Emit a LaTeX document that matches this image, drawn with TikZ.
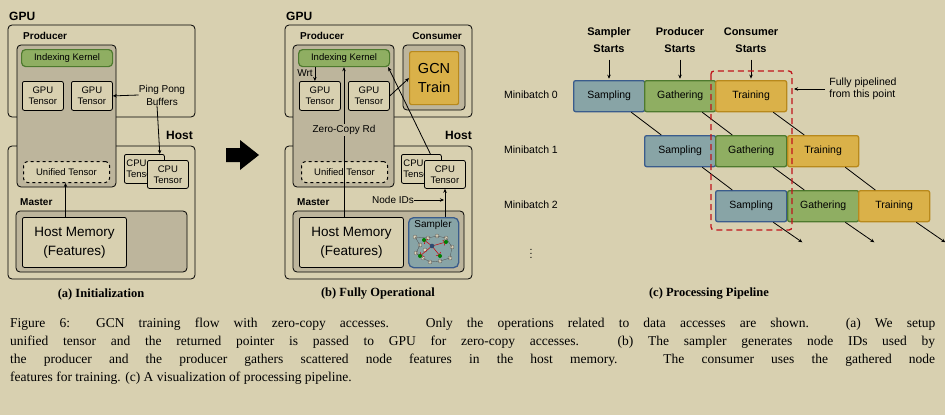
\documentclass[tikz,border=0pt]{standalone}
\usepackage{fontspec}
\setmainfont{Liberation Serif}
\newfontfamily\mysf{Liberation Sans}
\usetikzlibrary{arrows.meta}
\definecolor{bg}{HTML}{D8D0B0}
\definecolor{gry}{HTML}{BDB59C}
\definecolor{samp}{HTML}{88A4A6}
\definecolor{sampb}{HTML}{3A5C8C}
\definecolor{gath}{HTML}{8FAE62}
\definecolor{gathb}{HTML}{4E7A2E}
\definecolor{trn}{HTML}{DAB149}
\definecolor{trnb}{HTML}{B8891C}
\definecolor{rd}{HTML}{C0141C}
\begin{document}
\begin{tikzpicture}[x=1pt,y=-1pt,
 lbl/.style={font=\mysf\bfseries\fontsize{10}{11}\selectfont,inner sep=0},
 big/.style={font=\mysf\bfseries\fontsize{12}{13}\selectfont,inner sep=0},
 outer/.style={draw,rounded corners=4pt,line width=0.8pt},
 grybox/.style={draw,fill=gry,rounded corners=4pt,line width=0.8pt},
 wbox/.style={draw,fill=bg,rounded corners=2pt,line width=0.8pt,font=\mysf\fontsize{9.5}{11}\selectfont,align=center,inner sep=0},
 kern/.style={draw=gathb,fill=gath,rounded corners=4pt,line width=1.2pt,font=\mysf\fontsize{9.5}{11}\selectfont,inner sep=0},
 dsh/.style={draw,dashed,fill=bg,rounded corners=4pt,line width=1pt,font=\mysf\fontsize{9.5}{11}\selectfont,inner sep=0},
 arr/.style={-{Stealth[length=4pt,width=3.5pt]},line width=0.8pt},
 stage/.style={rounded corners=2pt,line width=1.3pt,font=\mysf\fontsize{10.5}{12}\selectfont,inner sep=0,minimum height=31pt,minimum width=71pt,anchor=north west},
 smp/.style={stage,draw=sampb,fill=samp},
 gth/.style={stage,draw=gathb,fill=gath},
 trg/.style={stage,draw=trnb,fill=trn},
 txt/.style={font=\mysf\fontsize{10.5}{12}\selectfont,inner sep=0,align=left},
 subcap/.style={font=\bfseries\fontsize{12.5}{14}\selectfont,inner sep=0}
]
\fill[bg] (0,0) rectangle (945,415);
\useasboundingbox (0,0) rectangle (945,415);

% ===== Panel (a)
\node[big,anchor=west] (aGPU) at (9,16) {GPU};
\draw[outer] (8,25) rectangle (195,117);
\node[lbl,anchor=west] (aProd) at (23,36) {Producer};
\draw[outer] (8,146) rectangle (195,279);
\node[big,anchor=east] (aHost) at (193,135) {Host};
\draw[grybox] (17,45) rectangle (116,187);
\node[kern,minimum width=91pt,minimum height=17pt,anchor=north west] (aK) at (21,49) {Indexing Kernel};
\node[wbox,minimum width=41pt,minimum height=29pt,anchor=north west] (aT1) at (22,81) {GPU\\Tensor};
\node[wbox,minimum width=41pt,minimum height=29pt,anchor=north west] (aT2) at (71,81) {GPU\\Tensor};
\node[txt,align=center,font=\mysf\fontsize{10}{13}\selectfont] (aPP) at (162,95) {Ping Pong\\Buffers};
\node[dsh,minimum width=86pt,minimum height=21pt,anchor=north west] (aU) at (23,161) {Unified Tensor};
\node[wbox,minimum width=40pt,minimum height=29pt,anchor=north west,align=left,text width=36pt] (aC1) at (124,154) {CPU\\Tensor};
\node[wbox,minimum width=41pt,minimum height=28pt,anchor=north west] (aC2) at (147,160) {CPU\\Tensor};
\node[lbl,anchor=west] (aM) at (20,202) {Master};
\draw[grybox] (16,211) rectangle (187,272);
\node[wbox,minimum width=104pt,minimum height=50pt,anchor=north west,font=\mysf\fontsize{13.5}{19}\selectfont] (aHM) at (22,217) {Host Memory\\(Features)};
\draw[arr] (aPP.west) -- (aT2.east);
\draw[arr] ([xshift=-5pt]aPP.south) -- ([xshift=-5pt]aC1.north east);
\draw[arr] (aHM.north -| aU.south) ++(-1,0) coordinate (aa) -- (aa |- aU.south);
\node[subcap] (capa) at (101,294) {(a) Initialization};

% big arrow
\fill (226,148) -- (240,148) -- (240,140) -- (259,155) -- (240,170) -- (240,162) -- (226,162) -- cycle;

% ===== Panel (b)
\node[big,anchor=west] (bGPU) at (286,16) {GPU};
\draw[outer] (285,25) rectangle (472,117);
\node[lbl,anchor=west] (bProd) at (300,36) {Producer};
\node[lbl,anchor=east] (bCons) at (462,36) {Consumer};
\draw[outer] (285,146) rectangle (472,279);
\node[big,anchor=east] (bHost) at (472,135) {Host};
\draw[grybox] (293,45) rectangle (394,187);
\draw[grybox] (403,45) rectangle (465,110);
\node[draw=trnb,fill=trn,line width=1.2pt,rounded corners=2pt,minimum width=49pt,minimum height=53pt,anchor=north west,font=\mysf\fontsize{14.5}{19}\selectfont,align=center,inner sep=0] (bG) at (409,51) {GCN\\Train};
\node[kern,minimum width=91pt,minimum height=17pt,anchor=north west] (bK) at (298,49) {Indexing Kernel};
\node[wbox,minimum width=41pt,minimum height=29pt,anchor=north west] (bT1) at (299,81) {GPU\\Tensor};
\node[wbox,minimum width=41pt,minimum height=29pt,anchor=north west] (bT2) at (348,81) {GPU\\Tensor};
\node[dsh,minimum width=86pt,minimum height=21pt,anchor=north west] (bU) at (301,161) {Unified Tensor};
\node[wbox,minimum width=40pt,minimum height=29pt,anchor=north west,align=left,text width=36pt] (bC1) at (401,154) {CPU\\Tensor};
\node[wbox,minimum width=41pt,minimum height=28pt,anchor=north west] (bC2) at (424,160) {CPU\\Tensor};
\node[lbl,anchor=west] (bM) at (297,202) {Master};
\draw[grybox] (293,211) rectangle (464,272);
\node[wbox,minimum width=104pt,minimum height=50pt,anchor=north west,font=\mysf\fontsize{13.5}{19}\selectfont] (bHM) at (299,217) {Host Memory\\(Features)};
\node[draw=sampb,fill=samp,line width=1.3pt,rounded corners=5pt,minimum width=50pt,minimum height=50pt,anchor=north west,inner sep=0] (bS) at (408,217) {};
\node[font=\mysf\fontsize{10}{11}\selectfont,inner sep=0] (bSl) at (433,225) {Sampler};
\foreach \p/\q in {415/237,420/245,416/253,423/258,430/262,440/261,450/258,452/247,446/238,437/236,428/238,425/250}
  \draw[gray!60!black,line width=0.3pt,fill=bg!80!white] (\p,\q) circle (2pt);
\draw[gray!60!black,line width=0.3pt] (415,237)--(420,245)--(416,253)--(423,258)--(430,262)--(440,261)--(450,258)--(452,247)--(446,238)--(437,236)--(428,238)--(415,237);
\draw[rd,line width=0.6pt,->] (432,246) -- (424,240);
\draw[rd,line width=0.6pt,->] (432,246) -- (420,256);
\draw[rd,line width=0.6pt,->] (432,246) -- (446,242);
\draw[rd,line width=0.6pt,->] (432,246) -- (440,256);
\fill[green!50!black] (420,256) circle (2pt) (446,242) circle (2pt) (440,256) circle (2pt) (424,240) circle (2pt);
\fill[sampb!80!black] (432,246) circle (2.3pt);
\node[font=\mysf\fontsize{10}{11}\selectfont,inner sep=0] (bNI) at (393,200) {Node IDs};
\coordinate (bNIe) at (444,200);
\node[font=\mysf\fontsize{10}{11}\selectfont,inner sep=0] (bW) at (305,73) {Wrt};
\node[font=\mysf\fontsize{10}{11}\selectfont,inner sep=1pt] (bZ) at (344,130) {Zero-Copy Rd};
\draw[arr] ([xshift=-5pt]bT1.north |- bK.south) -- ([xshift=-5pt]bT1.north);
\draw[line width=0.8pt] (bHM.north -| bZ.south) -- (bZ.south);
\draw[arr] (bZ.north) -- (bZ.north |- bK.south);
\draw[arr] (bT2.east) -- (bG.west);
\draw[arr] ([xshift=9pt]bC1.north) -- ([xshift=-2pt]bK.south east);
\draw[arr] (bNI.east) -- (bNIe);
\draw[arr] (bS.north -| bNIe) ++(1,0) coordinate (bb) -- (bb |- bC2.south);
\node[subcap] (capb) at (378,294) {(b) Fully Operational};

% ===== Panel (c)
\node[lbl,align=center,font=\mysf\bfseries\fontsize{11}{17}\selectfont] (hS) at (609,40) {Sampler\\Starts};
\node[lbl,align=center,font=\mysf\bfseries\fontsize{11}{17}\selectfont] (hP) at (680,40) {Producer\\Starts};
\node[lbl,align=center,font=\mysf\bfseries\fontsize{11}{17}\selectfont] (hC) at (751,40) {Consumer\\Starts};
\node[txt] (m0) at (531,95) {Minibatch 0};
\node[txt] (m1) at (531,150) {Minibatch 1};
\node[txt] (m2) at (531,205) {Minibatch 2};
\node[txt] (md) at (531,251) {$\vdots$};
\node[smp] (s0) at (573,80) {Sampling};
\node[gth] (g0) at (644,80) {Gathering};
\node[trg] (t0) at (715,80) {Training};
\node[smp] (s1) at (644,135) {Sampling};
\node[gth] (g1) at (715,135) {Gathering};
\node[trg] (t1) at (787,135) {Training};
\node[smp] (s2) at (715,190) {Sampling};
\node[gth] (g2) at (787,190) {Gathering};
\node[trg] (t2) at (858,190) {Training};
\foreach \n in {hS,hP,hC}{\draw[arr] ([yshift=-7pt]\n.south) -- ++(0,19);}
\foreach \a/\b in {s0/s1,g0/g1,t0/t1,s1/s2,g1/g2,t1/t2}
  {\draw[line width=0.8pt] ([xshift=-14pt]\a.south east) -- ([xshift=-55pt]\b.north east);}
\foreach \a in {s2,g2,t2}
  {\draw[arr] ([xshift=-14pt]\a.south east) -- ++(29,20);}
\draw[rd,line width=1.3pt,rounded corners=3pt,dash pattern=on 6pt off 4pt] (711,71) rectangle (792,230);
\node[txt] (fp) at (863,89) {Fully pipelined\\from this point};
\coordinate (fpe) at (794,89);
\draw[arr] (fp.west) ++(-4,0) coordinate (fps) -- (fpe);
\node[subcap] (capc) at (709,294) {(c) Processing Pipeline};

% ===== figure caption
\node[anchor=north west,inner sep=0,text width=925pt,font=\fontsize{13.5}{18}\selectfont,align=justify] (fig) at (10,318)
{Figure 6: GCN training flow with zero-copy accesses. Only the operations related to data accesses are shown. (a) We setup\linebreak
unified tensor and the returned pointer is passed to GPU for zero-copy accesses. (b) The sampler generates node IDs used by\linebreak
the producer and the producer gathers scattered node features in the host memory. The consumer uses the gathered node\linebreak
features for training. (c) A visualization of processing pipeline.};
\end{tikzpicture}
\end{document}
